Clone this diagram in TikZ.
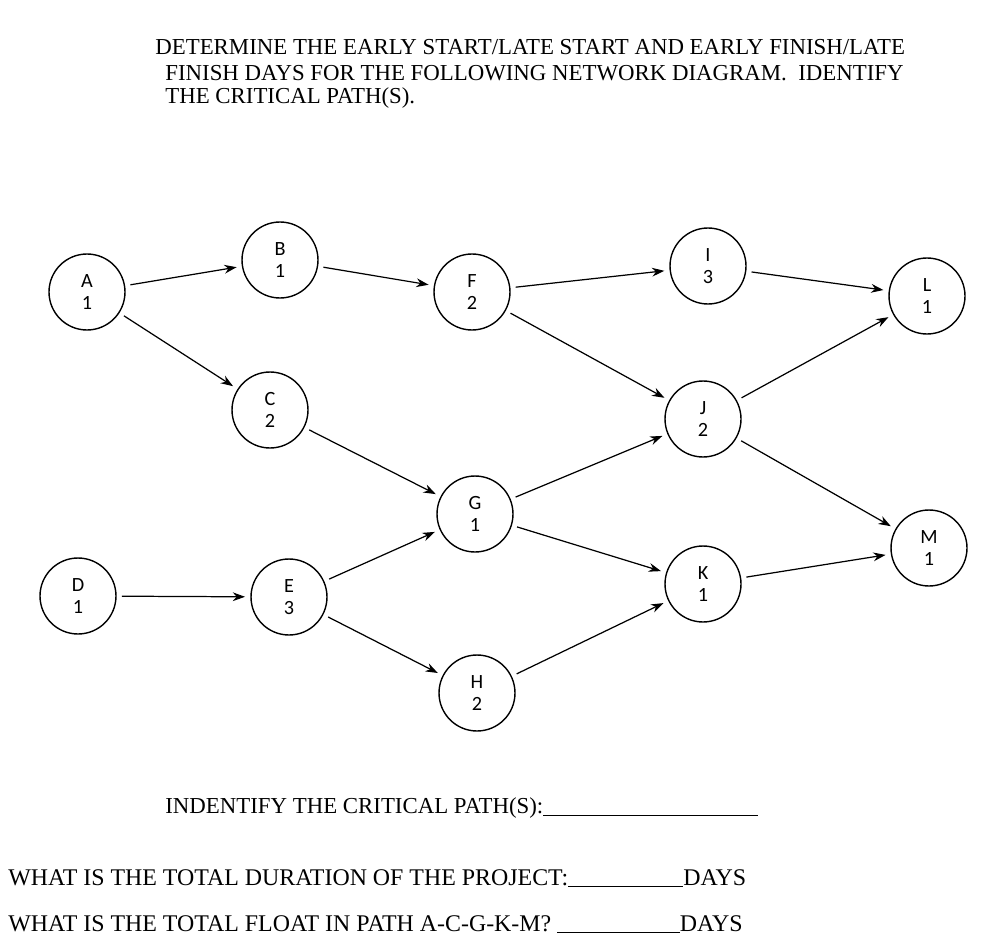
\documentclass[tikz,border=0pt]{standalone}
\usepackage{fontspec}
\setmainfont{Liberation Serif}
\newfontfamily\nodefont{Carlito}
\usetikzlibrary{arrows.meta}
\begin{document}
\begin{tikzpicture}[x=0.02cm,y=-0.02cm,
  act/.style={circle,draw,line width=0.8pt,minimum size=1.52cm,inner sep=0pt,align=center,font=\nodefont\fontsize{11.5}{12.5}\selectfont},
  arr/.style={-{Stealth[length=7pt,width=5pt]},line width=0.7pt,shorten >=3pt,shorten <=3pt},
  txt/.style={anchor=west,font=\fontsize{13}{13.5}\selectfont,inner sep=0pt},
  qtxt/.style={anchor=west,font=\fontsize{13.6}{14}\selectfont,inner sep=0pt}]
\useasboundingbox (0,0) rectangle (993,949);
\node[txt] (t1) at (155,47) {DETERMINE THE EARLY START/LATE START AND EARLY FINISH/LATE};
\node[txt] (t2) at (165,73) {FINISH DAYS FOR THE FOLLOWING NETWORK DIAGRAM.\ \ IDENTIFY};
\node[txt] (t3) at (165,98) {THE CRITICAL PATH(S).};
\node[act] (A) at (87,292) {A\\1};
\node[act] (B) at (280,260) {B\\1};
\node[act] (C) at (270,410) {C\\2};
\node[act] (D) at (78,596) {D\\1};
\node[act] (E) at (289,597) {E\\3};
\node[act] (F) at (472,292) {F\\2};
\node[act] (G) at (475,514) {G\\1};
\node[act] (H) at (477,693) {H\\2};
\node[act] (I) at (708,266) {I\\3};
\node[act] (J) at (703,419) {J\\2};
\node[act] (K) at (703,584) {K\\1};
\node[act] (L) at (927,296) {L\\1};
\node[act] (M) at (929,548) {M\\1};
\foreach \a/\b in {A/B,A/C,B/F,C/G,D/E,E/G,E/H,F/I,F/J,G/J,G/K,H/K,I/L,J/L,J/M,K/M}
  \draw[arr] (\a) -- (\b);
\node[txt] (q1) at (165,808) {INDENTIFY THE CRITICAL PATH(S):\rule[-1pt]{4.3cm}{0.4pt}};
\node[qtxt] (q2) at (8,878) {WHAT IS THE TOTAL DURATION OF THE PROJECT:\rule[-1pt]{2.3cm}{0.4pt}DAYS};
\node[qtxt] (q3) at (8,924) {WHAT IS THE TOTAL FLOAT IN PATH A-C-G-K-M? \rule[-1pt]{2.45cm}{0.4pt}DAYS};
\end{tikzpicture}
\end{document}
